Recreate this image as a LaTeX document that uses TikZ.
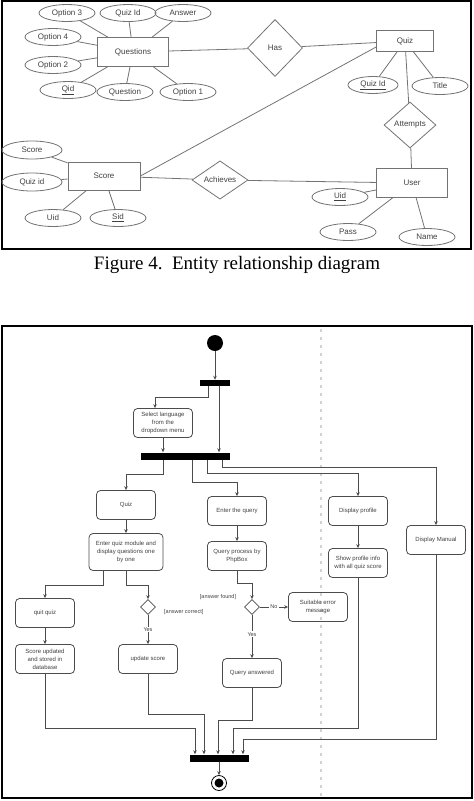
\documentclass[tikz,border=0pt]{standalone}
\usepackage{fontspec}
\setmainfont{Liberation Serif}
\setsansfont{Liberation Sans}
\usetikzlibrary{arrows.meta,positioning,calc,shapes.geometric}

\definecolor{erline}{gray}{0.45}
\definecolor{actline}{gray}{0.3}
\definecolor{txtgray}{gray}{0.25}

\tikzset{
  entity/.style={rectangle, draw=erline, thick, text=txtgray, minimum width=71, minimum height=29, inner sep=0},
  attr/.style={ellipse, draw=erline, thick, text=txtgray, minimum width=56, minimum height=17, inner sep=0},
  rel/.style={diamond, draw=erline, thick, text=txtgray, inner sep=0},
  erl/.style={draw=erline, thick},
  act/.style={rectangle, rounded corners=4, draw=actline, thick, text=txtgray, align=center, minimum width=59, minimum height=29, inner sep=1, font=\sffamily\fontsize{6}{8}\selectfont},
  bar/.style={rectangle, fill=black, inner sep=0},
  dec/.style={diamond, draw=actline, thick, minimum width=15, minimum height=15, inner sep=0},
  lbl/.style={text=txtgray, inner sep=1, font=\sffamily\fontsize{5.5}{7}\selectfont},
  arr/.style={draw=actline, thick, -{Stealth[length=4pt,width=3.5pt]}},
}

\begin{document}
\begin{tikzpicture}[x=1pt,y=-1pt, font=\sffamily\fontsize{8}{9}\selectfont]
\useasboundingbox (0,0) rectangle (474,801);

% frames
\draw[line width=2pt] (2,1) rectangle (471,249);
\draw[line width=2pt] (2,326) rectangle (472,798);

% ---------- entity relationship diagram ----------
\node[entity] (questions) at (133,52) {Questions};
\node[attr] (opt3) at (67,13) {Option 3};
\node[attr] (qzid1) at (128,13) {Quiz Id};
\node[attr] (answer) at (183,13) {Answer};
\node[attr] (opt4) at (53,37) {Option 4};
\node[attr] (opt2) at (53,65) {Option 2};
\node[attr] (qid) at (68,90) {\underline{Qid}};
\node[attr] (question) at (125,92) {Question};
\node[attr] (opt1) at (188,92) {Option 1};

\node[rel, minimum width=55, minimum height=57] (has) at (275,48) {Has};

\node[entity, minimum width=57, minimum height=21] (quiz) at (405,41) {Quiz};
\node[attr, minimum width=50] (qzid2) at (373,85) {\underline{Quiz Id}};
\node[attr] (title) at (440,86) {Title};
\node[rel, minimum width=52, minimum height=46] (attempts) at (410,125) {Attempts};

\node[entity, minimum width=72, minimum height=28] (scoreent) at (104,176) {Score};
\node[attr, minimum width=60, minimum height=18] (scoreatt) at (32,150) {Score};
\node[attr, minimum width=60, minimum height=18] (qzid3) at (32,182) {Quiz id};
\node[attr] (uid1) at (53,218) {Uid};
\node[attr] (sid) at (118,218) {\underline{Sid}};

\node[rel, minimum width=56, minimum height=32] (achieves) at (220,180) {Achieves};

\node[entity] (user) at (412,183) {User};
\node[attr] (uid2) at (340,197) {\underline{Uid}};
\node[attr] (pass) at (348,232) {Pass};
\node[attr] (name) at (427,237) {Name};

% attribute lines
\foreach \a in {opt3,qzid1,answer,opt4,opt2,qid,question,opt1}
  \draw[erl] (\a) -- (questions);
\foreach \a in {qzid2,title}
  \draw[erl] (\a) -- (quiz);
\foreach \a in {scoreatt,qzid3,uid1,sid}
  \draw[erl] (\a) -- (scoreent);
\foreach \a in {uid2,pass,name}
  \draw[erl] (\a) -- (user);

% relationships
\draw[erl] (questions) -- (has);
\draw[erl] (has) -- (quiz);
\draw[erl] (quiz) -- (attempts);
\draw[erl] (attempts) -- (user);
\draw[erl] (scoreent) -- (achieves);
\draw[erl] (achieves) -- (user);
\draw[erl] (scoreent.east) -- ([yshift=-6]quiz.west);

\node (cap) at (237,265) {\rmfamily\fontsize{19}{22}\selectfont Figure 4.\ \ Entity relationship diagram};

% ---------- activity diagram ----------
\coordinate (lanetop) at (321,329);
\coordinate (lanebot) at (321,796);
\draw[gray!35, line width=1.2pt, dash pattern=on 3pt off 5pt] (lanetop) -- (lanebot);

\node[circle, fill=black, minimum size=16, inner sep=0] (start) at (215,343) {};
\node[bar, minimum width=30, minimum height=6] (fork1) at (215,383) {};
\node[act] (lang) at (163,423) {Select language\\from the\\dropdown menu};
\node[bar, minimum width=89, minimum height=7] (fork2) at (185,456) {};

\node[act] (quiz2) at (126,505) {Quiz};
\node[act, minimum width=74, minimum height=37] (module) at (126,552) {Enter quiz module and\\display questions one\\by one};
\node[act] (quit) at (45,613) {quit quiz};
\node[dec] (dec1) at (148,607) {};
\node[act] (stored) at (45,659) {Score updated\\and stored in\\database};
\node[act] (upd) at (148,659) {update score};

\node[act] (query) at (237,511) {Enter the query};
\node[act] (process) at (237,556) {Query process by\\PhpBox};
\node[dec] (dec2) at (252,607) {};
\node[act] (error) at (318,607) {Suitable error\\message};
\node[act] (answered) at (252,673) {Query answered};

\node[act] (profile) at (358,511) {Display profile};
\node[act] (show) at (358,563) {Show profile info\\with all quiz score};
\node[act] (manual) at (436,540) {Display Manual};

\node[bar, minimum width=59, minimum height=7] (join) at (219,758) {};
\node[circle, draw=black, thick, minimum size=15, inner sep=0] (stop) at (219,783) {};
\node[circle, fill=black, minimum size=9, inner sep=0] (stopdot) at (stop) {};

\node[lbl, anchor=west] (lbl1) at (163,612) {[answer correct]};
\node[lbl] (lbl2) at (218,597) {[answer found]};

% Arrows
\draw[arr] (start) -- (fork1.north);
\draw[arr] ([xshift=-7]fork1.south) -- ++(0,11) -| ([xshift=-8]lang.north);
\draw[arr] ([xshift=4]fork1.south) -- ([xshift=4]fork1.south |- fork2.north);
\draw[arr] (lang.south) -- (lang.south |- fork2.north);

\draw[arr] ([xshift=-22]fork2.south) -- ++(0,14.5) -| (quiz2.north);
\draw[arr] ([xshift=7]fork2.south) -- ++(0,22.5) -| (query.north);
\draw[arr] ([xshift=22]fork2.south) -- ++(0,14) -| (profile.north);
\draw[arr] ([xshift=37]fork2.south) -- ++(0,7.5) -| (manual.north);

\draw[arr] (quiz2) -- (module);
\draw[arr] ([xshift=-23]module.south) -- ++(0,14.5) -| (quit.north);
\draw[arr] (module.south) -- ++(0,14.5) -| (dec1.north);
\draw[arr] (quit) -- (stored);
\draw[arr] (dec1) -- node[lbl, fill=white] {Yes} (upd);

\draw[arr] (query) -- (process);
\draw[arr] (process.south) -- ++(0,12.5) -| (dec2.north);
\draw[arr] (dec2) -- node[lbl, fill=white] {No} (error);
\draw[arr] (dec2) -- node[lbl, fill=white, pos=0.45] {Yes} (answered);

\draw[arr] (profile) -- (show);

\draw[arr] (stored.south) -- ++(0,54.5) -| ([xshift=-24]join.north);
\draw[arr] (upd.south) -- ++(0,40.5) -| ([xshift=-15]join.north);
\draw[arr] (answered.south) -- ++(0,32) -| ([xshift=-1]join.north);
\draw[arr] (show.south) -- ++(0,150.5) -| ([xshift=14]join.north);
\draw[arr] (manual.south) -- ++(0,184.5) -| ([xshift=24]join.north);
\draw[arr] (join.south) -- (stop.north);

\end{tikzpicture}
\end{document}
